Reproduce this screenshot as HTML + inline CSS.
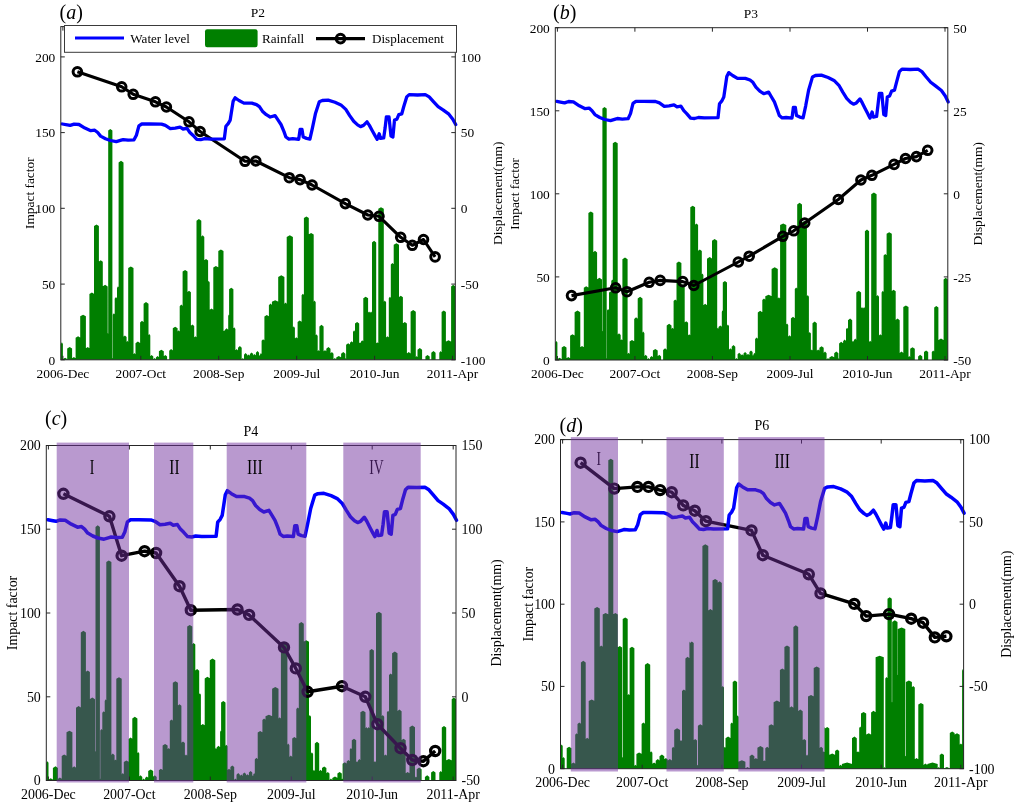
<!DOCTYPE html>
<html lang="en"><head><meta charset="utf-8"><title>Impact factor and displacement, P2 P3 P4 P6</title>
<style>
html,body{margin:0;padding:0;background:#fff}
svg{display:block}
text{font-family:"Liberation Serif","Times New Roman",serif;fill:#000}
.tag{font-size:20px}
</style></head><body>
<svg width="1024" height="809" viewBox="0 0 1024 809">
<rect width="1024" height="809" fill="#fff"/>
<g id="panel-a" font-size="13.4">
<path d="M60.8 359.8V343.9L61.9 342.3L62.9 343.9V359.8ZM62.6 359.8V359.3L65.1 357.7L67.5 359.3V359.8ZM67.2 359.8V348.5L69.7 346.9L72.1 348.5V359.8ZM71.8 359.8V358.5L73.9 356.9L75.9 358.5V359.8ZM75.6 359.8V337.8L78.1 336.2L80.5 337.8V359.8ZM80.2 359.8V316.3L83.1 314.7L85.9 316.3V359.8ZM85.6 359.8V348.5L87.7 346.9L89.7 348.5V359.8ZM89.4 359.8V294.1L91.9 292.5L94.3 294.1V359.8ZM94 359.8V226L96.5 224.4L98.9 226V359.8ZM98.6 359.8V261.8L100.7 260.2L102.8 261.8V359.8ZM102.5 359.8V286.4L105.1 284.8L107.7 286.4V359.8ZM107.4 359.8V334.7L107.9 333.1L108.5 334.7V359.8ZM108.2 359.8V130.6L110.3 129L112.4 130.6V359.8ZM112.1 359.8V359.6L112.6 358L113.1 359.6V359.8ZM112.8 359.8V314.8L113.9 313.2L115 314.8V359.8ZM114.7 359.8V298.7L116 297.1L117.3 298.7V359.8ZM117 359.8V287.9L118 286.3L118.9 287.9V359.8ZM118.6 359.8V162.4L121 160.8L123.5 162.4V359.8ZM123.2 359.8V337L124.9 335.4L126.6 337V359.8ZM126.3 359.8V342.4L127.4 340.8L128.5 342.4V359.8ZM128.2 359.8V268L130.8 266.4L133.5 268V359.8ZM133.2 359.8V354.7L134.5 353.1L135.8 354.7V359.8ZM135.5 359.8V343.2L137.9 341.6L140.4 343.2V359.8ZM140.1 359.8V322.4L142 320.8L143.9 322.4V359.8ZM143.6 359.8V303.7L146 302.1L148.5 303.7V359.8ZM148.2 359.8V335.5L149.3 333.9L150.3 335.5V359.8ZM150 359.8V356.6L151.6 355L153.3 356.6V359.8ZM153 359.8V359.6L154.6 358L156.2 359.6V359.8ZM155.9 359.8V357.6L157.6 356L159.2 357.6V359.8ZM158.9 359.8V351.3L161.3 349.7L163.8 351.3V359.8ZM163.5 359.8V356.6L165.3 355L167.1 356.6V359.8ZM169.2 359.8V350.7L171.1 349.1L173.1 350.7V359.8ZM172.8 359.8V328.3L175.2 326.7L177.6 328.3V359.8ZM177.3 359.8V331.9L178.6 330.3L180 331.9V359.8ZM179.7 359.8V306.2L181.3 304.6L182.9 306.2V359.8ZM182.6 359.8V271.5L185.1 269.9L187.5 271.5V359.8ZM187.2 359.8V292.3L189 290.7L190.9 292.3V359.8ZM190.6 359.8V326L192.4 324.4L194.2 326V359.8ZM193.9 359.8V337.8L195.4 336.2L196.8 337.8V359.8ZM196.5 359.8V220.7L198.9 219.1L201.3 220.7V359.8ZM201 359.8V236.9L202.7 235.3L204.3 236.9V359.8ZM204 359.8V260.6L206 259L208.1 260.6V359.8ZM207.8 359.8V282.4L208.7 280.8L209.7 282.4V359.8ZM209.4 359.8V310.1L211.5 308.5L213.6 310.1V359.8ZM213.3 359.8V267.6L215.9 266L218.6 267.6V359.8ZM218.3 359.8V251.1L220.9 249.5L223.5 251.1V359.8ZM223.2 359.8V331.9L224.2 330.3L225.1 331.9V359.8ZM224.8 359.8V329.9L226.6 328.3L228.5 329.9V359.8ZM228.2 359.8V316.1L228.8 314.5L229.4 316.1V359.8ZM229.1 359.8V289.3L231.3 287.7L233.4 289.3V359.8ZM233.1 359.8V328.9L234.2 327.3L235.4 328.9V359.8ZM235.1 359.8V350.7L236.7 349.1L238.3 350.7V359.8ZM238 359.8V347.7L239.9 346.1L241.7 347.7V359.8ZM241.4 359.8V359.6L242.8 358L244.3 359.6V359.8ZM244 359.8V354.7L245.6 353.1L247.3 354.7V359.8ZM247 359.8V356L248.6 354.4L250.2 356V359.8ZM249.9 359.8V354.1L251.6 352.5L253.2 354.1V359.8ZM252.9 359.8V355.7L254.5 354.1L256.2 355.7V359.8ZM255.9 359.8V352.7L257.5 351.1L259.1 352.7V359.8ZM258.8 359.8V356.6L259.6 355L260.3 356.6V359.8ZM260 359.8V354.7L260.9 353.1L261.9 354.7V359.8ZM261.6 359.8V340.8L263.1 339.2L264.7 340.8V359.8ZM264.4 359.8V316.5L266.8 314.9L269.2 316.5V359.8ZM268.9 359.8V305.2L270.5 303.6L272.2 305.2V359.8ZM271.9 359.8V301.8L275.2 300.2L278.5 301.8V359.8ZM278.2 359.8V276.9L281.3 275.3L284.4 276.9V359.8ZM284.1 359.8V304.2L285.6 302.6L287 304.2V359.8ZM286.7 359.8V236.9L289.8 235.3L292.9 236.9V359.8ZM292.6 359.8V327.9L293.8 326.3L294.9 327.9V359.8ZM294.6 359.8V338.8L296.3 337.2L297.9 338.8V359.8ZM297.6 359.8V322L299.7 320.4L301.9 322V359.8ZM301.6 359.8V295.3L302.9 293.7L304.2 295.3V359.8ZM303.9 359.8V218.1L306.4 216.5L308.8 218.1V359.8ZM308.5 359.8V234.5L311.1 232.9L313.7 234.5V359.8ZM313.4 359.8V302.2L314.6 300.6L315.7 302.2V359.8ZM315.4 359.8V335.9L316.5 334.3L317.7 335.9V359.8ZM317.4 359.8V351.7L318.5 350.1L319.7 351.7V359.8ZM319.4 359.8V326.4L321.5 324.8L323.6 326.4V359.8ZM323.3 359.8V351.7L325 350.1L326.6 351.7V359.8ZM326.3 359.8V348.7L328.4 347.1L330.5 348.7V359.8ZM330.2 359.8V353.7L331.9 352.1L333.5 353.7V359.8ZM333.2 359.8V359.6L334.8 358L336.5 359.6V359.8ZM336.2 359.8V357.6L338.8 356L341.4 357.6V359.8ZM341.1 359.8V353.7L343.3 352.1L345.4 353.7V359.8ZM345.1 359.8V359.6L345.7 358L346.4 359.6V359.8ZM346.1 359.8V344.8L348.2 343.2L350.3 344.8V359.8ZM350 359.8V342.8L351.7 341.2L353.3 342.8V359.8ZM353 359.8V331.9L354.1 330.3L355.3 331.9V359.8ZM355 359.8V323.6L357.1 322L359.2 323.6V359.8ZM358.9 359.8V343.8L360.1 342.2L361.2 343.8V359.8ZM360.9 359.8V341.8L362.2 340.2L363.6 341.8V359.8ZM363.3 359.8V298.3L365.7 296.7L368.1 298.3V359.8ZM367.8 359.8V313.1L369.1 311.5L370.3 313.1V359.8ZM370 359.8V313.1L371.1 311.5L372.3 313.1V359.8ZM372 359.8V242.4L374.1 240.8L376.2 242.4V359.8ZM375.9 359.8V343.8L377.3 342.2L378.6 343.8V359.8ZM378.3 359.8V208.8L381 207.2L383.8 208.8V359.8ZM383.5 359.8V302.2L384.8 300.6L386.1 302.2V359.8ZM385.8 359.8V337.8L387.5 336.2L389.1 337.8V359.8ZM388.8 359.8V298.3L389.9 296.7L391.1 298.3V359.8ZM390.8 359.8V264.6L392.4 263L394 264.6V359.8ZM393.7 359.8V244.8L396.4 243.2L399 244.8V359.8ZM398.7 359.8V297.3L400.8 295.7L402.9 297.3V359.8ZM402.6 359.8V323.6L404.8 322L406.9 323.6V359.8ZM406.6 359.8V353.7L408.7 352.1L410.9 353.7V359.8ZM410.6 359.8V311.7L413.2 310.1L415.8 311.7V359.8ZM415.5 359.8V357.6L416.6 356L417.8 357.6V359.8ZM417.5 359.8V349.7L419.8 348.1L422.1 349.7V359.8ZM425.4 359.8V356.6L427.5 355L429.7 356.6V359.8ZM431.3 359.8V352.7L433.5 351.1L435.6 352.7V359.8ZM439.3 359.8V352.7L440.6 351.1L441.9 352.7V359.8ZM441.6 359.8V312.1L443.8 310.5L445.9 312.1V359.8ZM445.6 359.8V341.8L448.5 340.2L451.4 341.8V359.8ZM451.1 359.8V286.4L453.2 284.8L455.3 286.4V359.8Z" fill="#007f00"/>
<polyline fill="none" stroke="#000" stroke-width="3.1" stroke-linejoin="round" points="77.4,71.8 121.7,86.8 133.2,94.3 155.4,101.8 166.4,107 189,121.8 200.1,131.5 245,161.3 255.8,161 289.3,177.7 300.1,179.6 312.1,185 345.3,203.6 367.8,215 379,216.3 400.7,237.3 412.3,245.3 423.5,239.5 435.1,256.9"/>
<circle cx="77.4" cy="71.8" r="4.3" fill="none" stroke="#000" stroke-width="3.0"/>
<circle cx="121.7" cy="86.8" r="4.3" fill="none" stroke="#000" stroke-width="3.0"/>
<circle cx="133.2" cy="94.3" r="4.3" fill="none" stroke="#000" stroke-width="3.0"/>
<circle cx="155.4" cy="101.8" r="4.3" fill="none" stroke="#000" stroke-width="3.0"/>
<circle cx="166.4" cy="107" r="4.3" fill="none" stroke="#000" stroke-width="3.0"/>
<circle cx="189" cy="121.8" r="4.3" fill="none" stroke="#000" stroke-width="3.0"/>
<circle cx="200.1" cy="131.5" r="4.3" fill="none" stroke="#000" stroke-width="3.0"/>
<circle cx="245" cy="161.3" r="4.3" fill="none" stroke="#000" stroke-width="3.0"/>
<circle cx="255.8" cy="161" r="4.3" fill="none" stroke="#000" stroke-width="3.0"/>
<circle cx="289.3" cy="177.7" r="4.3" fill="none" stroke="#000" stroke-width="3.0"/>
<circle cx="300.1" cy="179.6" r="4.3" fill="none" stroke="#000" stroke-width="3.0"/>
<circle cx="312.1" cy="185" r="4.3" fill="none" stroke="#000" stroke-width="3.0"/>
<circle cx="345.3" cy="203.6" r="4.3" fill="none" stroke="#000" stroke-width="3.0"/>
<circle cx="367.8" cy="215" r="4.3" fill="none" stroke="#000" stroke-width="3.0"/>
<circle cx="379" cy="216.3" r="4.3" fill="none" stroke="#000" stroke-width="3.0"/>
<circle cx="400.7" cy="237.3" r="4.3" fill="none" stroke="#000" stroke-width="3.0"/>
<circle cx="412.3" cy="245.3" r="4.3" fill="none" stroke="#000" stroke-width="3.0"/>
<circle cx="423.5" cy="239.5" r="4.3" fill="none" stroke="#000" stroke-width="3.0"/>
<circle cx="435.1" cy="256.9" r="4.3" fill="none" stroke="#000" stroke-width="3.0"/>
<polyline fill="none" stroke="#0000ff" stroke-width="3.3" stroke-linejoin="round" stroke-linecap="round" points="62.3,124 67.3,124.9 70.2,125.4 74.1,124.1 79,124.5 84.9,128.1 90.8,130.7 94.7,130.2 97.7,132.5 100.6,136.1 105.5,138.7 110.4,140.5 116.3,141.6 121.2,140.2 123.2,139.6 128.1,140.2 134,139.8 136.4,135.2 138.9,125.9 141.8,124 149.7,124 161.5,124.1 165.4,125.4 170.3,128.6 175.2,128.1 180.1,127.2 183.1,129 187,128.4 189.9,132.5 192.9,135.2 196.8,139.3 200.7,139.6 204.7,138.7 210.6,139.1 224.3,138.9 225.9,126.3 228.2,123.6 230.2,120.1 233.1,101.4 235.1,97.8 239,100.5 243.9,103.1 251.8,103.1 256.5,104.6 259.4,106.7 262.4,111.2 266.3,114.7 270.2,117 275.1,115.6 278.1,120.1 281,124.5 284,131.6 285.9,137 288.9,139.1 292.8,138.7 298.7,139.3 300.1,129.5 302,129.5 303.2,137 306.6,138.4 309.9,139.1 312.4,128.1 315.4,113.8 319.3,101.7 322.3,100.5 328.1,100.1 335,102.3 340.9,104.9 345.8,109.4 349.7,115.6 353.7,121.3 357.6,124.9 360.5,126.6 363.5,125.4 367,121.8 369.4,125.4 372.3,130.7 375.3,136.1 377.2,139.3 379.2,133.8 380.6,138.4 383.7,137.9 385.1,128.1 386.4,116.8 389,116.8 391,136.1 392.9,137 394.5,120.1 396.9,119.2 398.8,114.7 401.8,113.8 403.7,106.7 406.7,96.9 409.2,94.6 417.5,95 425.3,94.6 429.2,96.9 433.2,101.4 438.1,106.7 443,109.9 448.9,114.2 452.8,119.2 455.7,124.5"/>
<rect x="60.8" y="26.6" width="394.5" height="333.2" fill="none" stroke="#262626" stroke-width="1"/>
<path d="M62.9 359.8v-4M62.9 26.6v4" stroke="#262626" stroke-width="1"/>
<text x="62.9" y="377.6" text-anchor="middle" class="t">2006-Dec</text>
<path d="M140.8 359.8v-4M140.8 26.6v4" stroke="#262626" stroke-width="1"/>
<text x="140.8" y="377.6" text-anchor="middle" class="t">2007-Oct</text>
<path d="M218.7 359.8v-4M218.7 26.6v4" stroke="#262626" stroke-width="1"/>
<text x="218.7" y="377.6" text-anchor="middle" class="t">2008-Sep</text>
<path d="M296.7 359.8v-4M296.7 26.6v4" stroke="#262626" stroke-width="1"/>
<text x="296.7" y="377.6" text-anchor="middle" class="t">2009-Jul</text>
<path d="M374.6 359.8v-4M374.6 26.6v4" stroke="#262626" stroke-width="1"/>
<text x="374.6" y="377.6" text-anchor="middle" class="t">2010-Jun</text>
<path d="M452.5 359.8v-4M452.5 26.6v4" stroke="#262626" stroke-width="1"/>
<text x="452.5" y="377.6" text-anchor="middle" class="t">2011-Apr</text>
<path d="M60.8 359.8h4" stroke="#262626" stroke-width="1"/>
<text x="55.3" y="364.6" text-anchor="end" class="t">0</text>
<path d="M60.8 284.1h4" stroke="#262626" stroke-width="1"/>
<text x="55.3" y="288.9" text-anchor="end" class="t">50</text>
<path d="M60.8 208.3h4" stroke="#262626" stroke-width="1"/>
<text x="55.3" y="213.1" text-anchor="end" class="t">100</text>
<path d="M60.8 132.6h4" stroke="#262626" stroke-width="1"/>
<text x="55.3" y="137.4" text-anchor="end" class="t">150</text>
<path d="M60.8 56.9h4" stroke="#262626" stroke-width="1"/>
<text x="55.3" y="61.7" text-anchor="end" class="t">200</text>
<path d="M455.3 56.9h-4" stroke="#262626" stroke-width="1"/>
<text x="460.8" y="61.7" class="t">100</text>
<path d="M455.3 132.6h-4" stroke="#262626" stroke-width="1"/>
<text x="460.8" y="137.4" class="t">50</text>
<path d="M455.3 208.3h-4" stroke="#262626" stroke-width="1"/>
<text x="460.8" y="213.1" class="t">0</text>
<path d="M455.3 284.1h-4" stroke="#262626" stroke-width="1"/>
<text x="460.8" y="288.9" class="t">-50</text>
<path d="M455.3 359.8h-4" stroke="#262626" stroke-width="1"/>
<text x="460.8" y="364.6" class="t">-100</text>
<text transform="translate(34.3 193.2) rotate(-90)" text-anchor="middle" class="t" font-size="13.4">Impact factor</text>
<text transform="translate(502.3 193.2) rotate(-90)" text-anchor="middle" class="t" font-size="13.4">Displacement(mm)</text>
<text x="257.8" y="17.3" text-anchor="middle" class="ti" font-size="13.5">P2</text>
<text x="59.5" y="18.6" class="tag">(<tspan font-style="italic">a</tspan>)</text>
</g>
<g id="panel-b" font-size="13.4">
<path d="M555.3 360V342.5L556.3 340.9L557.4 342.5V360ZM557.1 360V359.3L559.5 357.7L562 359.3V360ZM561.7 360V347.5L564.1 345.9L566.5 347.5V360ZM566.2 360V358.5L568.3 356.9L570.4 358.5V360ZM570.1 360V335.8L572.5 334.2L574.9 335.8V360ZM574.6 360V312.2L577.5 310.6L580.3 312.2V360ZM580 360V347.5L582 345.9L584.1 347.5V360ZM583.8 360V287.8L586.2 286.2L588.7 287.8V360ZM588.4 360V213.1L590.8 211.5L593.3 213.1V360ZM593 360V252.4L595 250.8L597.1 252.4V360ZM596.8 360V279.4L599.4 277.8L602 279.4V360ZM601.7 360V332.4L602.2 330.8L602.7 332.4V360ZM602.4 360V108.5L604.5 106.9L606.7 108.5V360ZM606.4 360V359.7L606.8 358.1L607.3 359.7V360ZM607 360V310.5L608.1 308.9L609.3 310.5V360ZM609 360V292.8L610.3 291.2L611.6 292.8V360ZM611.3 360V281L612.2 279.4L613.1 281V360ZM612.8 360V143.3L615.2 141.7L617.7 143.3V360ZM617.4 360V334.9L619 333.3L620.7 334.9V360ZM620.4 360V340.8L621.6 339.2L622.7 340.8V360ZM622.4 360V259.2L625 257.6L627.6 259.2V360ZM627.3 360V354.3L628.6 352.7L629.9 354.3V360ZM629.6 360V341.6L632 340L634.5 341.6V360ZM634.2 360V318.9L636.1 317.3L638 318.9V360ZM637.7 360V298.4L640.1 296.8L642.5 298.4V360ZM642.2 360V333.2L643.3 331.6L644.4 333.2V360ZM644 360V356.4L645.7 354.8L647.3 356.4V360ZM647 360V359.7L648.6 358.1L650.3 359.7V360ZM650 360V357.5L651.6 355.9L653.2 357.5V360ZM652.9 360V350.6L655.3 349L657.7 350.6V360ZM657.4 360V356.4L659.3 354.8L661.1 356.4V360ZM663.1 360V349.9L665.1 348.3L667 349.9V360ZM666.7 360V325.4L669.1 323.8L671.5 325.4V360ZM671.2 360V329.3L672.5 327.7L673.9 329.3V360ZM673.6 360V301.1L675.2 299.5L676.8 301.1V360ZM676.5 360V263.1L678.9 261.5L681.4 263.1V360ZM681.1 360V285.9L682.9 284.3L684.7 285.9V360ZM684.4 360V322.8L686.2 321.2L688.1 322.8V360ZM687.8 360V335.8L689.2 334.2L690.6 335.8V360ZM690.3 360V207.3L692.7 205.7L695.1 207.3V360ZM694.8 360V225.1L696.5 223.5L698.1 225.1V360ZM697.8 360V251.1L699.8 249.5L701.8 251.1V360ZM701.5 360V275L702.5 273.4L703.4 275V360ZM703.1 360V305.4L705.2 303.8L707.3 305.4V360ZM707 360V258.7L709.7 257.1L712.3 258.7V360ZM712 360V240.7L714.6 239.1L717.2 240.7V360ZM716.9 360V329.3L717.8 327.7L718.8 329.3V360ZM718.5 360V327.1L720.3 325.5L722.1 327.1V360ZM721.8 360V311.9L722.4 310.3L723.1 311.9V360ZM722.8 360V282.6L724.9 281L727 282.6V360ZM726.7 360V326L727.9 324.4L729 326V360ZM728.7 360V349.9L730.3 348.3L732 349.9V360ZM731.7 360V346.7L733.5 345.1L735.3 346.7V360ZM735 360V359.7L736.4 358.1L737.9 359.7V360ZM737.6 360V354.3L739.2 352.7L740.8 354.3V360ZM740.5 360V355.8L742.1 354.2L743.8 355.8V360ZM743.5 360V353.6L745.1 352L746.7 353.6V360ZM746.4 360V355.4L748 353.8L749.7 355.4V360ZM749.4 360V352.1L751 350.5L752.6 352.1V360ZM752.3 360V356.4L753.1 354.8L753.8 356.4V360ZM753.5 360V354.3L754.4 352.7L755.4 354.3V360ZM755.1 360V339.1L756.6 337.5L758.1 339.1V360ZM757.8 360V312.4L760.2 310.8L762.6 312.4V360ZM762.3 360V300L764 298.4L765.6 300V360ZM765.3 360V296.3L768.6 294.7L771.9 296.3V360ZM771.6 360V268.9L774.7 267.3L777.8 268.9V360ZM777.5 360V298.9L778.9 297.3L780.4 298.9V360ZM780.1 360V225.1L783.2 223.5L786.3 225.1V360ZM786 360V325L787.1 323.4L788.2 325V360ZM787.9 360V336.9L789.6 335.3L791.2 336.9V360ZM790.9 360V318.4L793 316.8L795.1 318.4V360ZM794.8 360V289.1L796.2 287.5L797.5 289.1V360ZM797.2 360V204.4L799.6 202.8L802 204.4V360ZM801.7 360V222.5L804.3 220.9L806.9 222.5V360ZM806.6 360V296.7L807.8 295.1L808.9 296.7V360ZM808.6 360V333.6L809.7 332L810.9 333.6V360ZM810.6 360V351L811.7 349.4L812.8 351V360ZM812.5 360V323.2L814.7 321.6L816.8 323.2V360ZM816.5 360V351L818.1 349.4L819.7 351V360ZM819.4 360V347.8L821.6 346.2L823.7 347.8V360ZM823.4 360V353.2L825 351.6L826.6 353.2V360ZM826.3 360V359.7L828 358.1L829.6 359.7V360ZM829.3 360V357.5L831.9 355.9L834.5 357.5V360ZM834.2 360V353.2L836.3 351.6L838.4 353.2V360ZM838.1 360V359.7L838.8 358.1L839.4 359.7V360ZM839.1 360V343.4L841.2 341.8L843.4 343.4V360ZM843.1 360V341.2L844.7 339.6L846.3 341.2V360ZM846 360V329.3L847.1 327.7L848.3 329.3V360ZM848 360V320.2L850.1 318.6L852.2 320.2V360ZM851.9 360V342.3L853.1 340.7L854.2 342.3V360ZM853.9 360V340.2L855.2 338.6L856.6 340.2V360ZM856.3 360V292.4L858.7 290.8L861.1 292.4V360ZM860.8 360V308.7L862 307.1L863.2 308.7V360ZM862.9 360V308.7L864.1 307.1L865.2 308.7V360ZM864.9 360V231.2L867 229.6L869.1 231.2V360ZM868.8 360V342.3L870.2 340.7L871.5 342.3V360ZM871.2 360V194.2L873.9 192.6L876.6 194.2V360ZM876.3 360V296.7L877.7 295.1L879 296.7V360ZM878.7 360V335.8L880.3 334.2L881.9 335.8V360ZM881.6 360V292.4L882.8 290.8L883.9 292.4V360ZM883.6 360V255.5L885.2 253.9L886.9 255.5V360ZM886.6 360V233.8L889.2 232.2L891.8 233.8V360ZM891.5 360V291.3L893.6 289.7L895.7 291.3V360ZM895.4 360V320.2L897.5 318.6L899.7 320.2V360ZM899.4 360V353.2L901.5 351.6L903.6 353.2V360ZM903.3 360V307.1L905.9 305.5L908.5 307.1V360ZM908.2 360V357.5L909.3 355.9L910.5 357.5V360ZM910.2 360V348.8L912.5 347.2L914.8 348.8V360ZM918.1 360V356.4L920.2 354.8L922.3 356.4V360ZM924 360V352.1L926.1 350.5L928.2 352.1V360ZM931.8 360V352.1L933.2 350.5L934.5 352.1V360ZM934.2 360V307.6L936.3 306L938.4 307.6V360ZM938.1 360V340.2L941 338.6L943.9 340.2V360ZM943.6 360V279.4L945.7 277.8L947.8 279.4V360Z" fill="#007f00"/>
<polyline fill="none" stroke="#000" stroke-width="3.1" stroke-linejoin="round" points="571.5,295.6 615.6,287.8 627,291.7 649.2,282.3 660.2,280.4 682.8,281.6 693.8,285.5 738.3,262 749.2,256.2 782.8,236.3 793.8,230.8 804.7,223 838.3,199.5 860.9,180 871.9,175.3 894.1,164.4 905.5,158.5 916.4,156.6 927.7,150.3"/>
<circle cx="571.5" cy="295.6" r="4.3" fill="none" stroke="#000" stroke-width="3.0"/>
<circle cx="615.6" cy="287.8" r="4.3" fill="none" stroke="#000" stroke-width="3.0"/>
<circle cx="627" cy="291.7" r="4.3" fill="none" stroke="#000" stroke-width="3.0"/>
<circle cx="649.2" cy="282.3" r="4.3" fill="none" stroke="#000" stroke-width="3.0"/>
<circle cx="660.2" cy="280.4" r="4.3" fill="none" stroke="#000" stroke-width="3.0"/>
<circle cx="682.8" cy="281.6" r="4.3" fill="none" stroke="#000" stroke-width="3.0"/>
<circle cx="693.8" cy="285.5" r="4.3" fill="none" stroke="#000" stroke-width="3.0"/>
<circle cx="738.3" cy="262" r="4.3" fill="none" stroke="#000" stroke-width="3.0"/>
<circle cx="749.2" cy="256.2" r="4.3" fill="none" stroke="#000" stroke-width="3.0"/>
<circle cx="782.8" cy="236.3" r="4.3" fill="none" stroke="#000" stroke-width="3.0"/>
<circle cx="793.8" cy="230.8" r="4.3" fill="none" stroke="#000" stroke-width="3.0"/>
<circle cx="804.7" cy="223" r="4.3" fill="none" stroke="#000" stroke-width="3.0"/>
<circle cx="838.3" cy="199.5" r="4.3" fill="none" stroke="#000" stroke-width="3.0"/>
<circle cx="860.9" cy="180" r="4.3" fill="none" stroke="#000" stroke-width="3.0"/>
<circle cx="871.9" cy="175.3" r="4.3" fill="none" stroke="#000" stroke-width="3.0"/>
<circle cx="894.1" cy="164.4" r="4.3" fill="none" stroke="#000" stroke-width="3.0"/>
<circle cx="905.5" cy="158.5" r="4.3" fill="none" stroke="#000" stroke-width="3.0"/>
<circle cx="916.4" cy="156.6" r="4.3" fill="none" stroke="#000" stroke-width="3.0"/>
<circle cx="927.7" cy="150.3" r="4.3" fill="none" stroke="#000" stroke-width="3.0"/>
<polyline fill="none" stroke="#0000ff" stroke-width="3.3" stroke-linejoin="round" stroke-linecap="round" points="556.8,101.3 561.7,102.3 564.6,102.9 568.6,101.5 573.4,101.9 579.3,105.8 585.2,108.7 589.1,108.1 592,110.7 594.9,114.6 599.8,117.5 604.7,119.5 610.5,120.6 615.4,119.1 617.4,118.5 622.3,119.1 628.1,118.7 630.5,113.6 633,103.4 635.9,101.3 643.8,101.3 655.5,101.5 659.4,102.9 664.3,106.4 669.1,105.8 674,104.8 677,106.8 680.9,106.2 683.8,110.7 686.7,113.6 690.6,118.1 694.5,118.5 698.4,117.5 704.3,117.9 718,117.7 719.5,103.8 721.9,100.9 723.8,97 726.8,76.5 728.7,72.6 732.6,75.5 737.5,78.4 745.3,78.4 750,80 752.9,82.3 755.9,87.2 759.8,91.1 763.7,93.7 768.6,92.1 771.5,97 774.4,101.9 777.3,109.7 779.3,115.5 782.2,117.9 786.1,117.5 792,118.1 793.4,107.3 795.3,107.3 796.5,115.5 799.8,117.1 803.1,117.9 805.7,105.8 808.6,90.2 812.5,76.9 815.4,75.5 821.3,75.1 828.1,77.5 834,80.4 838.9,85.3 842.8,92.1 846.7,98.4 850.6,102.3 853.5,104.2 856.4,102.9 860,98.9 862.3,102.9 865.2,108.7 868.2,114.6 870.1,118.1 872.1,112 873.4,117.1 876.6,116.5 877.9,105.8 879.3,93.5 881.8,93.5 883.8,114.6 885.7,115.5 887.3,97 889.6,96 891.6,91.1 894.5,90.2 896.5,82.3 899.4,71.6 902,69.1 910.2,69.5 918,69.1 921.9,71.6 925.8,76.5 930.7,82.3 935.5,85.9 941.4,90.5 945.3,96 948.2,101.9"/>
<rect x="555.3" y="27.7" width="392.5" height="332.3" fill="none" stroke="#262626" stroke-width="1"/>
<path d="M557.4 360v-4M557.4 27.7v4" stroke="#262626" stroke-width="1"/>
<text x="557.4" y="377.8" text-anchor="middle" class="t">2006-Dec</text>
<path d="M634.9 360v-4M634.9 27.7v4" stroke="#262626" stroke-width="1"/>
<text x="634.9" y="377.8" text-anchor="middle" class="t">2007-Oct</text>
<path d="M712.4 360v-4M712.4 27.7v4" stroke="#262626" stroke-width="1"/>
<text x="712.4" y="377.8" text-anchor="middle" class="t">2008-Sep</text>
<path d="M790 360v-4M790 27.7v4" stroke="#262626" stroke-width="1"/>
<text x="790" y="377.8" text-anchor="middle" class="t">2009-Jul</text>
<path d="M867.5 360v-4M867.5 27.7v4" stroke="#262626" stroke-width="1"/>
<text x="867.5" y="377.8" text-anchor="middle" class="t">2010-Jun</text>
<path d="M945 360v-4M945 27.7v4" stroke="#262626" stroke-width="1"/>
<text x="945" y="377.8" text-anchor="middle" class="t">2011-Apr</text>
<path d="M555.3 360h4" stroke="#262626" stroke-width="1"/>
<text x="549.8" y="364.8" text-anchor="end" class="t">0</text>
<path d="M555.3 276.9h4" stroke="#262626" stroke-width="1"/>
<text x="549.8" y="281.7" text-anchor="end" class="t">50</text>
<path d="M555.3 193.8h4" stroke="#262626" stroke-width="1"/>
<text x="549.8" y="198.7" text-anchor="end" class="t">100</text>
<path d="M555.3 110.8h4" stroke="#262626" stroke-width="1"/>
<text x="549.8" y="115.6" text-anchor="end" class="t">150</text>
<path d="M555.3 27.7h4" stroke="#262626" stroke-width="1"/>
<text x="549.8" y="32.5" text-anchor="end" class="t">200</text>
<path d="M947.8 27.7h-4" stroke="#262626" stroke-width="1"/>
<text x="953.3" y="32.5" class="t">50</text>
<path d="M947.8 110.8h-4" stroke="#262626" stroke-width="1"/>
<text x="953.3" y="115.6" class="t">25</text>
<path d="M947.8 193.8h-4" stroke="#262626" stroke-width="1"/>
<text x="953.3" y="198.7" class="t">0</text>
<path d="M947.8 276.9h-4" stroke="#262626" stroke-width="1"/>
<text x="953.3" y="281.7" class="t">-25</text>
<path d="M947.8 360h-4" stroke="#262626" stroke-width="1"/>
<text x="953.3" y="364.8" class="t">-50</text>
<text transform="translate(519 193.8) rotate(-90)" text-anchor="middle" class="t" font-size="13.4">Impact factor</text>
<text transform="translate(981.8 193.8) rotate(-90)" text-anchor="middle" class="t" font-size="13.4">Displacement(mm)</text>
<text x="750.8" y="17.6" text-anchor="middle" class="ti" font-size="13.5">P3</text>
<text x="553" y="18.6" class="tag">(<tspan font-style="italic">b</tspan>)</text>
</g>
<g id="panel-c" font-size="13.9">
<path d="M46.3 780.5V762.8L47.4 761.2L48.5 762.8V780.5ZM48.2 780.5V779.8L50.7 778.2L53.2 779.8V780.5ZM52.9 780.5V767.9L55.5 766.3L58 767.9V780.5ZM57.7 780.5V779L59.9 777.4L62 779V780.5ZM61.7 780.5V756L64.2 754.4L66.8 756V780.5ZM66.5 780.5V732.3L69.4 730.7L72.4 732.3V780.5ZM72.1 780.5V767.9L74.2 766.3L76.3 767.9V780.5ZM76 780.5V707.7L78.6 706.1L81.1 707.7V780.5ZM80.8 780.5V632.4L83.4 630.8L85.9 632.4V780.5ZM85.6 780.5V672.1L87.7 670.5L89.9 672.1V780.5ZM89.6 780.5V699.2L92.3 697.6L95 699.2V780.5ZM94.7 780.5V752.7L95.2 751.1L95.8 752.7V780.5ZM95.5 780.5V526.9L97.7 525.3L99.9 526.9V780.5ZM99.6 780.5V780.1L100.1 778.5L100.6 780.1V780.5ZM100.3 780.5V730.6L101.4 729L102.6 730.6V780.5ZM102.3 780.5V712.8L103.7 711.2L105 712.8V780.5ZM104.7 780.5V700.9L105.7 699.3L106.6 700.9V780.5ZM106.3 780.5V562.1L108.8 560.5L111.4 562.1V780.5ZM111.1 780.5V755.2L112.8 753.6L114.6 755.2V780.5ZM114.3 780.5V761.1L115.5 759.5L116.6 761.1V780.5ZM116.3 780.5V678.8L119 677.2L121.7 678.8V780.5ZM121.4 780.5V774.7L122.8 773.1L124.1 774.7V780.5ZM123.8 780.5V762L126.4 760.4L128.9 762V780.5ZM128.6 780.5V739.1L130.6 737.5L132.6 739.1V780.5ZM132.3 780.5V718.4L134.8 716.8L137.4 718.4V780.5ZM137.1 780.5V753.5L138.2 751.9L139.3 753.5V780.5ZM138.9 780.5V776.9L140.6 775.3L142.3 776.9V780.5ZM142 780.5V780.2L143.7 778.6L145.4 780.2V780.5ZM145.1 780.5V778L146.8 776.4L148.5 778V780.5ZM148.2 780.5V771L150.7 769.4L153.2 771V780.5ZM152.9 780.5V776.9L154.8 775.3L156.7 776.9V780.5ZM158.9 780.5V770.3L160.9 768.7L162.9 770.3V780.5ZM162.6 780.5V745.6L165.1 744L167.6 745.6V780.5ZM167.3 780.5V749.5L168.7 747.9L170.1 749.5V780.5ZM169.8 780.5V721.1L171.5 719.5L173.1 721.1V780.5ZM172.8 780.5V682.8L175.4 681.2L177.9 682.8V780.5ZM177.6 780.5V705.8L179.5 704.2L181.4 705.8V780.5ZM181.1 780.5V743L183 741.4L184.9 743V780.5ZM184.6 780.5V756.1L186 754.5L187.5 756.1V780.5ZM187.2 780.5V626.5L189.7 624.9L192.3 626.5V780.5ZM192 780.5V644.5L193.6 642.9L195.3 644.5V780.5ZM195 780.5V670.7L197.1 669.1L199.2 670.7V780.5ZM198.9 780.5V694.8L199.9 693.2L200.9 694.8V780.5ZM200.6 780.5V725.5L202.8 723.9L205 725.5V780.5ZM204.7 780.5V678.4L207.4 676.8L210.1 678.4V780.5ZM209.8 780.5V660.2L212.5 658.6L215.3 660.2V780.5ZM215 780.5V749.5L215.9 747.9L216.9 749.5V780.5ZM216.6 780.5V747.4L218.5 745.8L220.4 747.4V780.5ZM220.1 780.5V732L220.8 730.4L221.4 732V780.5ZM221.1 780.5V702.5L223.3 700.9L225.5 702.5V780.5ZM225.2 780.5V746.3L226.4 744.7L227.6 746.3V780.5ZM227.3 780.5V770.3L229 768.7L230.7 770.3V780.5ZM230.4 780.5V767.1L232.3 765.5L234.2 767.1V780.5ZM233.9 780.5V780.2L235.4 778.6L236.8 780.2V780.5ZM236.5 780.5V774.7L238.2 773.1L239.9 774.7V780.5ZM239.6 780.5V776.2L241.3 774.6L243 776.2V780.5ZM242.7 780.5V774.1L244.4 772.5L246.1 774.1V780.5ZM245.8 780.5V775.8L247.5 774.2L249.2 775.8V780.5ZM248.9 780.5V772.5L250.6 770.9L252.3 772.5V780.5ZM252 780.5V776.9L252.7 775.3L253.5 776.9V780.5ZM253.2 780.5V774.7L254.1 773.1L255.1 774.7V780.5ZM254.8 780.5V759.4L256.4 757.8L258 759.4V780.5ZM257.7 780.5V732.5L260.2 730.9L262.7 732.5V780.5ZM262.4 780.5V720L264.1 718.4L265.8 720V780.5ZM265.5 780.5V716.3L268.9 714.7L272.4 716.3V780.5ZM272.1 780.5V688.7L275.3 687.1L278.5 688.7V780.5ZM278.2 780.5V718.9L279.7 717.3L281.2 718.9V780.5ZM280.9 780.5V644.5L284.1 642.9L287.4 644.5V780.5ZM287.1 780.5V745.2L288.3 743.6L289.4 745.2V780.5ZM289.1 780.5V757.2L290.8 755.6L292.5 757.2V780.5ZM292.2 780.5V738.6L294.4 737L296.6 738.6V780.5ZM296.3 780.5V709L297.7 707.4L299.1 709V780.5ZM298.8 780.5V623.7L301.3 622.1L303.8 623.7V780.5ZM303.5 780.5V641.8L306.2 640.2L309 641.8V780.5ZM308.7 780.5V716.7L309.8 715.1L311 716.7V780.5ZM310.7 780.5V753.9L311.9 752.3L313.1 753.9V780.5ZM312.8 780.5V771.4L313.9 769.8L315.1 771.4V780.5ZM314.8 780.5V743.4L317 741.8L319.2 743.4V780.5ZM318.9 780.5V771.4L320.6 769.8L322.3 771.4V780.5ZM322 780.5V768.1L324.2 766.5L326.4 768.1V780.5ZM326.1 780.5V773.6L327.8 772L329.5 773.6V780.5ZM329.2 780.5V780.2L330.9 778.6L332.6 780.2V780.5ZM332.3 780.5V778L335 776.4L337.7 778V780.5ZM337.4 780.5V773.6L339.6 772L341.8 773.6V780.5ZM341.5 780.5V780.2L342.2 778.6L342.9 780.2V780.5ZM342.6 780.5V763.8L344.8 762.2L347 763.8V780.5ZM346.7 780.5V761.6L348.4 760L350.1 761.6V780.5ZM349.8 780.5V749.5L350.9 747.9L352.1 749.5V780.5ZM351.8 780.5V740.3L354 738.7L356.2 740.3V780.5ZM355.9 780.5V762.7L357.1 761.1L358.3 762.7V780.5ZM358 780.5V760.5L359.4 758.9L360.7 760.5V780.5ZM360.4 780.5V712.3L363 710.7L365.5 712.3V780.5ZM365.2 780.5V728.7L366.4 727.1L367.7 728.7V780.5ZM367.4 780.5V728.7L368.6 727.1L369.8 728.7V780.5ZM369.5 780.5V650.6L371.7 649L373.9 650.6V780.5ZM373.6 780.5V762.7L375 761.1L376.3 762.7V780.5ZM376 780.5V613.4L378.9 611.8L381.7 613.4V780.5ZM381.4 780.5V716.7L382.8 715.1L384.2 716.7V780.5ZM383.9 780.5V756.1L385.5 754.5L387.2 756.1V780.5ZM386.9 780.5V712.3L388.1 710.7L389.3 712.3V780.5ZM389 780.5V675.1L390.7 673.5L392.4 675.1V780.5ZM392.1 780.5V653.2L394.8 651.6L397.5 653.2V780.5ZM397.2 780.5V711.2L399.4 709.6L401.6 711.2V780.5ZM401.3 780.5V740.3L403.5 738.7L405.7 740.3V780.5ZM405.4 780.5V773.6L407.6 772L409.8 773.6V780.5ZM409.5 780.5V727.2L412.3 725.6L415 727.2V780.5ZM414.7 780.5V778L415.9 776.4L417 778V780.5ZM416.7 780.5V769.2L419.1 767.6L421.6 769.2V780.5ZM424.9 780.5V776.9L427.2 775.3L429.4 776.9V780.5ZM431.1 780.5V772.5L433.3 770.9L435.5 772.5V780.5ZM439.3 780.5V772.5L440.7 770.9L442.1 772.5V780.5ZM441.8 780.5V727.6L444 726L446.2 727.6V780.5ZM445.9 780.5V760.5L448.9 758.9L452 760.5V780.5ZM451.7 780.5V699.2L453.8 697.6L456 699.2V780.5Z" fill="#007f00"/>
<polyline fill="none" stroke="#000" stroke-width="3.4" stroke-linejoin="round" points="63.4,493.8 109.4,516.3 121.6,555.7 144.6,551.2 156.1,553 179.5,586.2 190.8,610.2 237.5,609.5 249.1,614.9 284,647.4 295.8,668.4 307.6,691.8 342,686.2 365.3,696.8 377.4,724.2 400.5,748.2 412.3,760 423.4,761.2 435.2,751"/>
<circle cx="63.4" cy="493.8" r="4.6" fill="none" stroke="#000" stroke-width="3.2"/>
<circle cx="109.4" cy="516.3" r="4.6" fill="none" stroke="#000" stroke-width="3.2"/>
<circle cx="121.6" cy="555.7" r="4.6" fill="none" stroke="#000" stroke-width="3.2"/>
<circle cx="144.6" cy="551.2" r="4.6" fill="none" stroke="#000" stroke-width="3.2"/>
<circle cx="156.1" cy="553" r="4.6" fill="none" stroke="#000" stroke-width="3.2"/>
<circle cx="179.5" cy="586.2" r="4.6" fill="none" stroke="#000" stroke-width="3.2"/>
<circle cx="190.8" cy="610.2" r="4.6" fill="none" stroke="#000" stroke-width="3.2"/>
<circle cx="237.5" cy="609.5" r="4.6" fill="none" stroke="#000" stroke-width="3.2"/>
<circle cx="249.1" cy="614.9" r="4.6" fill="none" stroke="#000" stroke-width="3.2"/>
<circle cx="284" cy="647.4" r="4.6" fill="none" stroke="#000" stroke-width="3.2"/>
<circle cx="295.8" cy="668.4" r="4.6" fill="none" stroke="#000" stroke-width="3.2"/>
<circle cx="307.6" cy="691.8" r="4.6" fill="none" stroke="#000" stroke-width="3.2"/>
<circle cx="342" cy="686.2" r="4.6" fill="none" stroke="#000" stroke-width="3.2"/>
<circle cx="365.3" cy="696.8" r="4.6" fill="none" stroke="#000" stroke-width="3.2"/>
<circle cx="377.4" cy="724.2" r="4.6" fill="none" stroke="#000" stroke-width="3.2"/>
<circle cx="400.5" cy="748.2" r="4.6" fill="none" stroke="#000" stroke-width="3.2"/>
<circle cx="412.3" cy="760" r="4.6" fill="none" stroke="#000" stroke-width="3.2"/>
<circle cx="423.4" cy="761.2" r="4.6" fill="none" stroke="#000" stroke-width="3.2"/>
<circle cx="435.2" cy="751" r="4.6" fill="none" stroke="#000" stroke-width="3.2"/>
<polyline fill="none" stroke="#0000ff" stroke-width="3.5" stroke-linejoin="round" stroke-linecap="round" points="47.9,519.7 53,520.7 56.1,521.3 60.1,519.9 65.2,520.3 71.3,524.2 77.5,527.2 81.5,526.6 84.6,529.1 87.7,533.1 92.8,536 97.9,538 104,539.2 109.1,537.6 111.1,537 116.2,537.6 122.3,537.2 124.8,532.1 127.4,521.9 130.5,519.7 138.6,519.7 150.9,519.9 154.9,521.3 160,524.8 165.1,524.2 170.2,523.2 173.3,525.2 177.4,524.6 180.4,529.1 183.5,532.1 187.6,536.6 191.6,537 195.7,536 201.8,536.4 216.1,536.2 217.7,522.2 220.2,519.3 222.2,515.4 225.3,494.7 227.3,490.7 231.4,493.7 236.5,496.6 244.6,496.6 249.5,498.2 252.6,500.6 255.6,505.5 259.7,509.4 263.8,512 268.9,510.4 272,515.4 275,520.3 278.1,528.2 280.1,534.1 283.2,536.4 287.2,536 293.4,536.6 294.8,525.8 296.8,525.8 298.1,534.1 301.5,535.6 305,536.4 307.6,524.2 310.7,508.5 314.8,495.1 317.8,493.7 323.9,493.3 331.1,495.7 337.2,498.6 342.3,503.5 346.4,510.4 350.4,516.7 354.5,520.7 357.6,522.6 360.6,521.3 364.3,517.3 366.8,521.3 369.8,527.2 372.9,533.1 374.9,536.6 377,530.5 378.4,535.6 381.6,535 383.1,524.2 384.5,511.8 387.1,511.8 389.2,533.1 391.2,534.1 392.9,515.4 395.3,514.4 397.3,509.4 400.4,508.5 402.4,500.6 405.5,489.8 408.1,487.2 416.7,487.6 424.9,487.2 428.9,489.8 433,494.7 438.1,500.6 443.2,504.1 449.3,508.9 453.4,514.4 456.5,520.3"/>
<rect x="46.3" y="445.5" width="409.7" height="335" fill="none" stroke="#262626" stroke-width="1"/>
<path d="M48.4 780.5v-4M48.4 445.5v4" stroke="#262626" stroke-width="1"/>
<text x="48.4" y="798.8" text-anchor="middle" class="t">2006-Dec</text>
<path d="M129.4 780.5v-4M129.4 445.5v4" stroke="#262626" stroke-width="1"/>
<text x="129.4" y="798.8" text-anchor="middle" class="t">2007-Oct</text>
<path d="M210.3 780.5v-4M210.3 445.5v4" stroke="#262626" stroke-width="1"/>
<text x="210.3" y="798.8" text-anchor="middle" class="t">2008-Sep</text>
<path d="M291.3 780.5v-4M291.3 445.5v4" stroke="#262626" stroke-width="1"/>
<text x="291.3" y="798.8" text-anchor="middle" class="t">2009-Jul</text>
<path d="M372.2 780.5v-4M372.2 445.5v4" stroke="#262626" stroke-width="1"/>
<text x="372.2" y="798.8" text-anchor="middle" class="t">2010-Jun</text>
<path d="M453.2 780.5v-4M453.2 445.5v4" stroke="#262626" stroke-width="1"/>
<text x="453.2" y="798.8" text-anchor="middle" class="t">2011-Apr</text>
<path d="M46.3 780.5h4" stroke="#262626" stroke-width="1"/>
<text x="40.8" y="785.3" text-anchor="end" class="t">0</text>
<path d="M46.3 696.8h4" stroke="#262626" stroke-width="1"/>
<text x="40.8" y="701.5" text-anchor="end" class="t">50</text>
<path d="M46.3 613h4" stroke="#262626" stroke-width="1"/>
<text x="40.8" y="617.8" text-anchor="end" class="t">100</text>
<path d="M46.3 529.2h4" stroke="#262626" stroke-width="1"/>
<text x="40.8" y="534" text-anchor="end" class="t">150</text>
<path d="M46.3 445.5h4" stroke="#262626" stroke-width="1"/>
<text x="40.8" y="450.3" text-anchor="end" class="t">200</text>
<path d="M456 445.5h-4" stroke="#262626" stroke-width="1"/>
<text x="461.5" y="450.3" class="t">150</text>
<path d="M456 529.2h-4" stroke="#262626" stroke-width="1"/>
<text x="461.5" y="534" class="t">100</text>
<path d="M456 613h-4" stroke="#262626" stroke-width="1"/>
<text x="461.5" y="617.8" class="t">50</text>
<path d="M456 696.8h-4" stroke="#262626" stroke-width="1"/>
<text x="461.5" y="701.5" class="t">0</text>
<path d="M456 780.5h-4" stroke="#262626" stroke-width="1"/>
<text x="461.5" y="785.3" class="t">-50</text>
<text transform="translate(16.6 613) rotate(-90)" text-anchor="middle" class="t" font-size="13.9">Impact factor</text>
<text transform="translate(501 613) rotate(-90)" text-anchor="middle" class="t" font-size="13.9">Displacement(mm)</text>
<text x="250.9" y="435.5" text-anchor="middle" class="ti" font-size="14">P4</text>
<text x="45" y="425" class="tag">(<tspan font-style="italic">c</tspan>)</text>
<text x="376.5" y="473.6" text-anchor="middle" class="rn" font-size="21" textLength="14.5" lengthAdjust="spacingAndGlyphs">IV</text>
<rect x="56.7" y="442.6" width="72.3" height="339.9" fill="#702e9e" fill-opacity="0.49"/>
<rect x="154" y="442.6" width="39.3" height="339.9" fill="#702e9e" fill-opacity="0.49"/>
<rect x="226.7" y="442.6" width="79.6" height="339.9" fill="#702e9e" fill-opacity="0.49"/>
<rect x="343.3" y="442.6" width="77.4" height="339.9" fill="#702e9e" fill-opacity="0.49"/>
<text x="92.0" y="473.7" text-anchor="middle" class="rn" font-size="21" textLength="4.6" lengthAdjust="spacingAndGlyphs">I</text>
<text x="174.4" y="473.7" text-anchor="middle" class="rn" font-size="21" textLength="10.2" lengthAdjust="spacingAndGlyphs">II</text>
<text x="254.9" y="473.7" text-anchor="middle" class="rn" font-size="21" textLength="15.6" lengthAdjust="spacingAndGlyphs">III</text>
</g>
<g id="panel-d" font-size="13.9">
<path d="M560.6 768.7V746.1L561.7 744.5L562.7 746.1V768.7ZM562.4 768.7V758.5L563.6 756.9L564.7 758.5V768.7ZM566.7 768.7V748.3L569.1 746.7L571.5 748.3V768.7ZM571.2 768.7V764.1L573.4 762.5L575.5 764.1V768.7ZM575.2 768.7V734.8L576.5 733.2L577.8 734.8V768.7ZM577.5 768.7V724L579.3 722.4L581.2 724V768.7ZM580.9 768.7V662.4L583.3 660.8L585.7 662.4V768.7ZM585.4 768.7V739.3L587.2 737.7L589 739.3V768.7ZM588.7 768.7V701.1L591.7 699.5L594.6 701.1V768.7ZM594.3 768.7V608.5L597.1 606.9L599.8 608.5V768.7ZM599.5 768.7V647.1L601.2 645.5L603 647.1V768.7ZM602.7 768.7V614.5L605.6 612.9L608.6 614.5V768.7ZM608.3 768.7V460.3L610.8 458.7L613.3 460.3V768.7ZM613 768.7V614.5L615.4 612.9L617.8 614.5V768.7ZM617.5 768.7V647.6L619.8 646L622.1 647.6V768.7ZM621.8 768.7V758.5L622.4 756.9L623 758.5V768.7ZM622.7 768.7V619L625.2 617.4L627.7 619V768.7ZM627.4 768.7V695.5L628.7 693.9L629.9 695.5V768.7ZM629.6 768.7V648.3L632 646.7L634.4 648.3V768.7ZM634.1 768.7V766.3L635.4 764.7L636.7 766.3V768.7ZM636.4 768.7V754L639.1 752.4L641.9 754V768.7ZM641.6 768.7V724L643.4 722.4L645.2 724V768.7ZM644.9 768.7V664.7L647.6 663.1L650.2 664.7V768.7ZM649.9 768.7V752.8L651.1 751.2L652.4 752.8V768.7ZM652.1 768.7V764.1L654.1 762.5L656 764.1V768.7ZM655.7 768.7V760.7L657.8 759.1L659.8 760.7V768.7ZM659.5 768.7V756.2L661.9 754.6L664.3 756.2V768.7ZM664 768.7V759.6L665.9 758L667.7 759.6V768.7ZM667.4 768.7V760.7L669.8 759.1L672.2 760.7V768.7ZM671.9 768.7V748.3L673.2 746.7L674.5 748.3V768.7ZM674.2 768.7V729.9L677.1 728.3L680.1 729.9V768.7ZM679.8 768.7V741.6L681 740L682.3 741.6V768.7ZM682 768.7V691L683.9 689.4L685.7 691V768.7ZM685.4 768.7V658.4L687.6 656.8L689.7 658.4V768.7ZM689.4 768.7V643.1L689.8 641.5L690.2 643.1V768.7ZM690 768.7V643.1L691.8 641.5L693.7 643.1V768.7ZM693.4 768.7V740.5L695.2 738.9L697 740.5V768.7ZM696.7 768.7V766.3L697.5 764.7L698.2 766.3V768.7ZM697.9 768.7V725.8L700.3 724.2L702.7 725.8V768.7ZM702.4 768.7V545.9L705.3 544.3L708.3 545.9V768.7ZM708 768.7V610.7L710.4 609.1L712.8 610.7V768.7ZM712.5 768.7V580.5L715.1 578.9L717.7 580.5V768.7ZM717.4 768.7V582.9L719.6 581.3L721.8 582.9V768.7ZM721.5 768.7V687.6L722.7 686L724 687.6V768.7ZM723.7 768.7V748.3L724.8 746.7L725.8 748.3V768.7ZM725.5 768.7V738.2L728.1 736.6L730.8 738.2V768.7ZM730.5 768.7V724L731.7 722.4L733 724V768.7ZM732.7 768.7V682L734.9 680.4L737.1 682V768.7ZM736.8 768.7V716.9L737.7 715.3L738.6 716.9V768.7ZM738.3 768.7V761.8L741.9 760.2L745.4 761.8V768.7ZM745.1 768.7V768.6L747.5 767L749.9 768.6V768.7ZM749.6 768.7V756.2L752 754.6L754.4 756.2V768.7ZM754.1 768.7V759.6L755.9 758L757.7 759.6V768.7ZM757.4 768.7V747.7L760.4 746.1L763.4 747.7V768.7ZM763.1 768.7V761.8L764.3 760.2L765.6 761.8V768.7ZM765.3 768.7V748.3L767.2 746.7L769 748.3V768.7ZM768.7 768.7V725.8L771.3 724.2L773.9 725.8V768.7ZM773.6 768.7V702.2L776.9 700.6L780.2 702.2V768.7ZM779.9 768.7V670.1L782.3 668.5L784.7 670.1V768.7ZM784.4 768.7V647.1L787 645.5L789.7 647.1V768.7ZM789.4 768.7V707.9L791.5 706.3L793.7 707.9V768.7ZM793.4 768.7V626.9L795.8 625.3L798.2 626.9V768.7ZM797.9 768.7V711.2L800.3 709.6L802.7 711.2V768.7ZM802.4 768.7V740.5L804.2 738.9L806.1 740.5V768.7ZM805.8 768.7V756.2L807.1 754.6L808.3 756.2V768.7ZM808 768.7V696.6L811 695L814 696.6V768.7ZM813.7 768.7V668.1L816.6 666.5L819.6 668.1V768.7ZM819.3 768.7V748.3L821.1 746.7L822.9 748.3V768.7ZM822.6 768.7V752.8L823.7 751.2L824.7 752.8V768.7ZM824.4 768.7V728.5L824.8 726.9L825.2 728.5V768.7ZM825 768.7V728.5L827.2 726.9L829.3 728.5V768.7ZM829 768.7V755.1L832.2 753.5L835.4 755.1V768.7ZM835.1 768.7V751L837.2 749.4L839.2 751V768.7ZM838.9 768.7V766.3L840.6 764.7L842.2 766.3V768.7ZM841.9 768.7V764.1L847.1 762.5L852.3 764.1V768.7ZM852 768.7V738.2L854.4 736.6L856.8 738.2V768.7ZM856.5 768.7V752.8L858 751.2L859.5 752.8V768.7ZM859.2 768.7V728.1L860.2 726.5L861.3 728.1V768.7ZM861 768.7V713.5L863.6 711.9L866.2 713.5V768.7ZM865.9 768.7V734.8L868.7 733.2L871.4 734.8V768.7ZM871.1 768.7V712.4L873.5 710.8L875.9 712.4V768.7ZM875.6 768.7V657.3L879.7 655.7L883.8 657.3V768.7ZM883.5 768.7V768.6L884.5 767L885.6 768.6V768.7ZM885.3 768.7V678.6L886.5 677L887.8 678.6V768.7ZM887.5 768.7V598.8L889.7 597.2L891.8 598.8V768.7ZM891.5 768.7V703.4L892 701.8L892.5 703.4V768.7ZM892.2 768.7V621.9L894.8 620.3L897.5 621.9V768.7ZM897.2 768.7V676.4L897.7 674.8L898.1 676.4V768.7ZM897.8 768.7V629.1L901.6 627.5L905.3 629.1V768.7ZM905 768.7V757.3L905.6 755.7L906.2 757.3V768.7ZM905.9 768.7V682L908.9 680.4L911.9 682V768.7ZM911.6 768.7V687.6L913.2 686L914.8 687.6V768.7ZM914.5 768.7V759.6L916.5 758L918.6 759.6V768.7ZM918.3 768.7V704.5L920.9 702.9L923.5 704.5V768.7ZM923.2 768.7V765.2L925.4 763.6L927.6 765.2V768.7ZM927.3 768.7V764.1L932.5 762.5L937.7 764.1V768.7ZM937.4 768.7V768.6L938.7 767L940 768.6V768.7ZM939.7 768.7V755.1L941.8 753.5L944 755.1V768.7ZM943.7 768.7V768.6L946.9 767L950.1 768.6V768.7ZM949.8 768.7V733L952.2 731.4L954.6 733V768.7ZM954.3 768.7V734.8L957 733.2L959.7 734.8V768.7ZM959.4 768.7V745L960.9 743.4L962.4 745V768.7ZM962.1 768.7V670.7L962.9 669.1L963.6 670.7V768.7Z" fill="#007f00"/>
<polyline fill="none" stroke="#000" stroke-width="3.4" stroke-linejoin="round" points="580.6,462.7 614.3,488.6 637.4,486.9 648.5,486.9 660.1,490.1 671.7,492.2 683.2,505.4 694.8,510.7 705.9,521.2 751.5,530.4 762.8,555.2 808.8,574.3 820.5,593.4 854.3,603.9 866.2,616.1 889,614.1 911.2,618.7 923.1,622.7 934.8,637.4 946.4,636.3"/>
<circle cx="580.6" cy="462.7" r="4.6" fill="none" stroke="#000" stroke-width="3.2"/>
<circle cx="614.3" cy="488.6" r="4.6" fill="none" stroke="#000" stroke-width="3.2"/>
<circle cx="637.4" cy="486.9" r="4.6" fill="none" stroke="#000" stroke-width="3.2"/>
<circle cx="648.5" cy="486.9" r="4.6" fill="none" stroke="#000" stroke-width="3.2"/>
<circle cx="660.1" cy="490.1" r="4.6" fill="none" stroke="#000" stroke-width="3.2"/>
<circle cx="671.7" cy="492.2" r="4.6" fill="none" stroke="#000" stroke-width="3.2"/>
<circle cx="683.2" cy="505.4" r="4.6" fill="none" stroke="#000" stroke-width="3.2"/>
<circle cx="694.8" cy="510.7" r="4.6" fill="none" stroke="#000" stroke-width="3.2"/>
<circle cx="705.9" cy="521.2" r="4.6" fill="none" stroke="#000" stroke-width="3.2"/>
<circle cx="751.5" cy="530.4" r="4.6" fill="none" stroke="#000" stroke-width="3.2"/>
<circle cx="762.8" cy="555.2" r="4.6" fill="none" stroke="#000" stroke-width="3.2"/>
<circle cx="808.8" cy="574.3" r="4.6" fill="none" stroke="#000" stroke-width="3.2"/>
<circle cx="820.5" cy="593.4" r="4.6" fill="none" stroke="#000" stroke-width="3.2"/>
<circle cx="854.3" cy="603.9" r="4.6" fill="none" stroke="#000" stroke-width="3.2"/>
<circle cx="866.2" cy="616.1" r="4.6" fill="none" stroke="#000" stroke-width="3.2"/>
<circle cx="889" cy="614.1" r="4.6" fill="none" stroke="#000" stroke-width="3.2"/>
<circle cx="911.2" cy="618.7" r="4.6" fill="none" stroke="#000" stroke-width="3.2"/>
<circle cx="923.1" cy="622.7" r="4.6" fill="none" stroke="#000" stroke-width="3.2"/>
<circle cx="934.8" cy="637.4" r="4.6" fill="none" stroke="#000" stroke-width="3.2"/>
<circle cx="946.4" cy="636.3" r="4.6" fill="none" stroke="#000" stroke-width="3.2"/>
<polyline fill="none" stroke="#0000ff" stroke-width="3.5" stroke-linejoin="round" stroke-linecap="round" points="562.1,512.5 567.1,513.4 570.1,514 574.1,512.7 579.1,513.1 585.1,516.9 591.2,519.8 595.2,519.3 598.2,521.8 601.2,525.6 606.2,528.5 611.2,530.5 617.2,531.6 622.3,530.1 624.3,529.5 629.3,530.1 635.3,529.7 637.7,524.7 640.3,514.6 643.3,512.5 651.3,512.5 663.4,512.7 667.4,514 672.4,517.5 677.4,516.9 682.4,516 685.4,517.9 689.5,517.3 692.5,521.8 695.5,524.7 699.5,529.1 703.5,529.5 707.5,528.5 713.5,528.9 727.6,528.7 729.2,515 731.6,512.1 733.6,508.2 736.6,487.9 738.6,484 742.6,486.9 747.6,489.8 755.6,489.8 760.5,491.4 763.5,493.7 766.5,498.6 770.5,502.4 774.5,504.9 779.5,503.4 782.5,508.2 785.5,513.1 788.5,520.8 790.5,526.6 793.6,528.9 797.6,528.5 803.6,529.1 805,518.5 807,518.5 808.2,526.6 811.6,528.1 815,528.9 817.6,516.9 820.6,501.5 824.6,488.3 827.7,486.9 833.7,486.6 840.7,488.9 846.7,491.8 851.7,496.6 855.7,503.4 859.7,509.6 863.8,513.4 866.8,515.4 869.8,514 873.4,510.2 875.8,514 878.8,519.8 881.8,525.6 883.8,529.1 885.8,523.1 887.2,528.1 890.4,527.6 891.8,516.9 893.2,504.7 895.9,504.7 897.9,525.6 899.9,526.6 901.5,508.2 903.9,507.3 905.9,502.4 908.9,501.5 910.9,493.7 913.9,483.1 916.5,480.6 924.9,481 933,480.6 937,483.1 941,487.9 946,493.7 951,497.2 957,501.8 961,507.3 964.1,513.1"/>
<rect x="560.5" y="439.6" width="403.1" height="329.1" fill="none" stroke="#262626" stroke-width="1"/>
<path d="M562.6 768.7v-4M562.6 439.6v4" stroke="#262626" stroke-width="1"/>
<text x="562.6" y="787" text-anchor="middle" class="t">2006-Dec</text>
<path d="M642.2 768.7v-4M642.2 439.6v4" stroke="#262626" stroke-width="1"/>
<text x="642.2" y="787" text-anchor="middle" class="t">2007-Oct</text>
<path d="M721.9 768.7v-4M721.9 439.6v4" stroke="#262626" stroke-width="1"/>
<text x="721.9" y="787" text-anchor="middle" class="t">2008-Sep</text>
<path d="M801.5 768.7v-4M801.5 439.6v4" stroke="#262626" stroke-width="1"/>
<text x="801.5" y="787" text-anchor="middle" class="t">2009-Jul</text>
<path d="M881.2 768.7v-4M881.2 439.6v4" stroke="#262626" stroke-width="1"/>
<text x="881.2" y="787" text-anchor="middle" class="t">2010-Jun</text>
<path d="M960.8 768.7v-4M960.8 439.6v4" stroke="#262626" stroke-width="1"/>
<text x="960.8" y="787" text-anchor="middle" class="t">2011-Apr</text>
<path d="M560.5 768.7h4" stroke="#262626" stroke-width="1"/>
<text x="555" y="773.5" text-anchor="end" class="t">0</text>
<path d="M560.5 686.4h4" stroke="#262626" stroke-width="1"/>
<text x="555" y="691.2" text-anchor="end" class="t">50</text>
<path d="M560.5 604.2h4" stroke="#262626" stroke-width="1"/>
<text x="555" y="609" text-anchor="end" class="t">100</text>
<path d="M560.5 521.9h4" stroke="#262626" stroke-width="1"/>
<text x="555" y="526.7" text-anchor="end" class="t">150</text>
<path d="M560.5 439.6h4" stroke="#262626" stroke-width="1"/>
<text x="555" y="444.4" text-anchor="end" class="t">200</text>
<path d="M963.6 439.6h-4" stroke="#262626" stroke-width="1"/>
<text x="969.1" y="444.4" class="t">100</text>
<path d="M963.6 521.9h-4" stroke="#262626" stroke-width="1"/>
<text x="969.1" y="526.7" class="t">50</text>
<path d="M963.6 604.2h-4" stroke="#262626" stroke-width="1"/>
<text x="969.1" y="609" class="t">0</text>
<path d="M963.6 686.4h-4" stroke="#262626" stroke-width="1"/>
<text x="969.1" y="691.2" class="t">-50</text>
<path d="M963.6 768.7h-4" stroke="#262626" stroke-width="1"/>
<text x="969.1" y="773.5" class="t">-100</text>
<text transform="translate(533 604.2) rotate(-90)" text-anchor="middle" class="t" font-size="13.9">Impact factor</text>
<text transform="translate(1010.6 604.2) rotate(-90)" text-anchor="middle" class="t" font-size="13.9">Displacement(mm)</text>
<text x="761.8" y="430" text-anchor="middle" class="ti" font-size="14">P6</text>
<text x="559.5" y="431.5" class="tag">(<tspan font-style="italic">d</tspan>)</text>
<text x="598.8" y="465.0" text-anchor="middle" class="rn" font-size="19" textLength="4.5" lengthAdjust="spacingAndGlyphs">I</text>
<rect x="570.8" y="437.1" width="47.2" height="334.4" fill="#702e9e" fill-opacity="0.49"/>
<rect x="666.5" y="437.1" width="57.3" height="334.4" fill="#702e9e" fill-opacity="0.49"/>
<rect x="738.3" y="437.1" width="86.2" height="334.4" fill="#702e9e" fill-opacity="0.49"/>
<text x="694.4" y="467.7" text-anchor="middle" class="rn" font-size="21" textLength="10.2" lengthAdjust="spacingAndGlyphs">II</text>
<text x="782.2" y="467.7" text-anchor="middle" class="rn" font-size="21" textLength="15.6" lengthAdjust="spacingAndGlyphs">III</text>
</g>
<g id="legend" font-size="13.1">
<rect x="64.5" y="25.5" width="392" height="26.8" fill="#fff" stroke="#3a3a3a" stroke-width="1"/>
<path d="M75 38H124" stroke="#0000ff" stroke-width="3"/>
<text x="130.3" y="42.5" class="t">Water level</text>
<rect x="205" y="29.2" width="52.6" height="18" rx="2.2" fill="#007f00"/>
<text x="262" y="42.5" class="t">Rainfall</text>
<path d="M316 38.6H365" stroke="#000" stroke-width="3.1"/><circle cx="340.5" cy="38.6" r="4.3" fill="#fff" fill-opacity="0" stroke="#000" stroke-width="3"/>
<text x="372" y="42.5" class="t">Displacement</text>
</g>
</svg>
</body></html>
